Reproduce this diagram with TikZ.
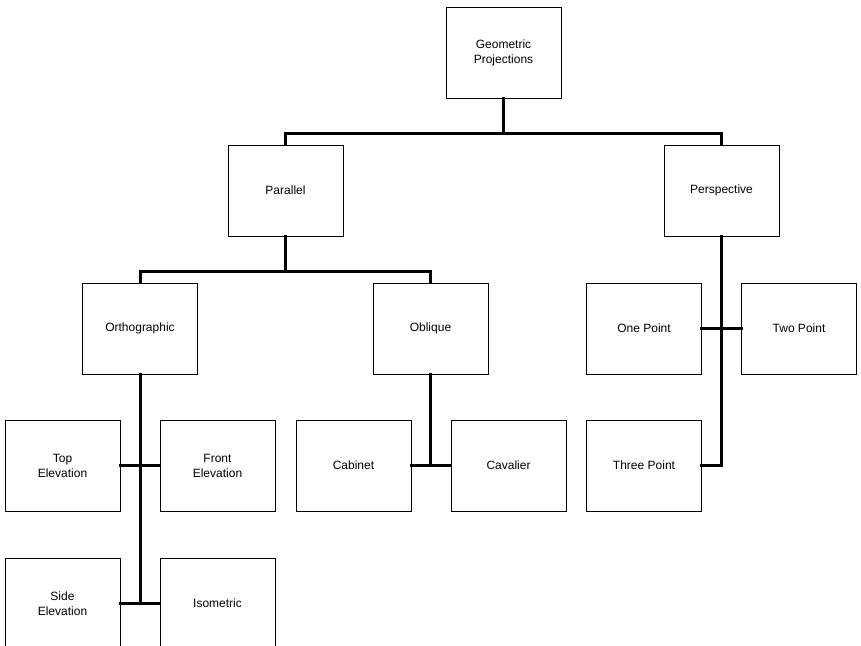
\documentclass[tikz,border=0pt]{standalone}
\usepackage{fontspec}
\setmainfont{Liberation Sans}
\begin{document}
\begin{tikzpicture}[x=1pt,y=-1pt,
  box/.style={draw=black,line width=0.8pt,fill=white,minimum width=115pt,minimum height=91pt,inner sep=2pt,align=center,font=\fontsize{12}{15}\selectfont},
  conn/.style={line width=3pt,line cap=rect}]
\useasboundingbox (0,0) rectangle (861,645);
\begin{scope}
\clip (0,0) rectangle (861,645);
% connectors first
\coordinate (g1) at (503.5,133);
\coordinate (p1) at (285.5,271);
\coordinate (o1) at (140,603);
\coordinate (q1) at (430.5,465.5);
\coordinate (r1) at (721.5,465.5);
\node[box] (geo) at (503.5,53) {Geometric\\Projections};
\node[box] (par) at (285.5,190.5) {Parallel};
\node[box] (per) at (721.5,190.5) {Perspective};
\node[box] (ort) at (140,328.5) {Orthographic};
\node[box] (obl) at (430.5,328.5) {Oblique};
\node[box] (one) at (644,328.5) {One Point};
\node[box] (two) at (799,328.5) {Two Point};
\node[box] (top) at (62.5,465.5) {Top\\Elevation};
\node[box] (fro) at (217.5,465.5) {Front\\Elevation};
\node[box] (cab) at (353.5,465.5) {Cabinet};
\node[box] (cav) at (508.5,465.5) {Cavalier};
\node[box] (thr) at (644,465.5) {Three Point};
\node[box] (sid) at (62.5,603.5) {Side\\Elevation};
\node[box] (iso) at (217.5,603.5) {Isometric};
\draw[conn] (geo.south) -- (g1);
\draw[conn] (par.north) |- (g1) -| (per.north);
\draw[conn] (par.south) -- (p1);
\draw[conn] (ort.north) |- (p1) -| (obl.north);
\draw[conn] (ort.south) -- (o1);
\draw[conn] (top.east) -- (fro.west);
\draw[conn] (sid.east) -- (iso.west);
\draw[conn] (obl.south) -- (q1);
\draw[conn] (cab.east) -- (cav.west);
\draw[conn] (per.south) -- (r1);
\draw[conn] (one.east) -- (two.west);
\draw[conn] (thr.east) -- (r1);
\end{scope}
\end{tikzpicture}
\end{document}
